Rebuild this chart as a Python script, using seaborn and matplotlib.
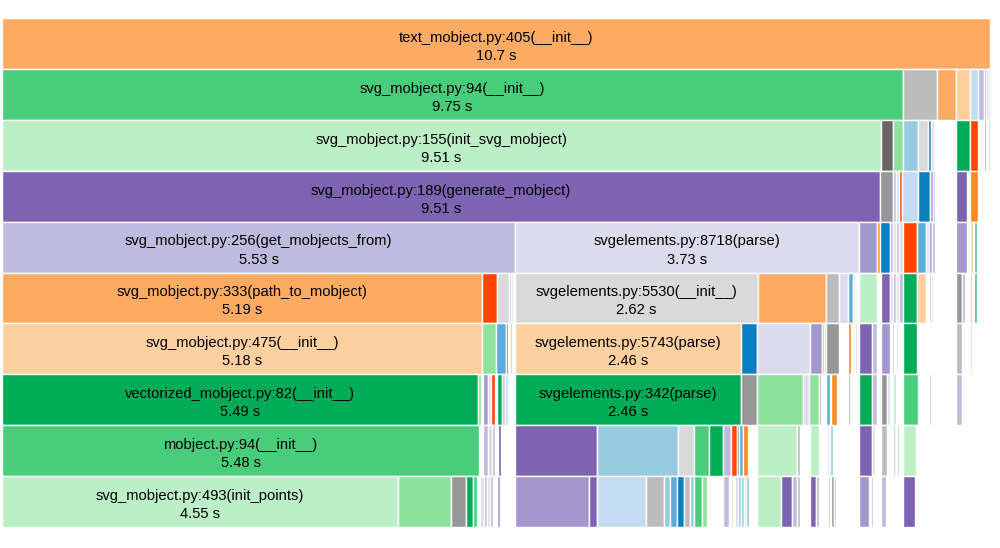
import pandas as pd
import matplotlib
matplotlib.use("Agg")
import matplotlib.pyplot as plt
import seaborn as sns

# colours used by the icicle cells
palette = {
    "or": "#fdab62", "lo": "#fed0a0", "dor": "#ff8a1f", "red": "#ff4500",
    "g": "#48ce7a", "dg": "#00ad56", "mg": "#8ee29c", "lg": "#bdefc6",
    "p": "#7e63b3", "mp": "#a397cb", "lp": "#bebbde", "pl": "#dcdbee",
    "b": "#0a7fc2", "mb": "#5aaedc", "lb": "#97cbe1", "pb": "#c4dcf1",
    "k1": "#666666", "k2": "#979797", "k3": "#bcbcbc", "k4": "#d9d9d9",
}

# each row of the call stack: (seconds, colour key); None = empty space
row0 = [(10.700, "or")]
row1 = [(9.758, "g"), (0.368, "k3"), (0.206, "or"), (0.152, "lo"), (0.087, "pb"),
        (0.065, "lp"), (0.022, "mb"), (0.022, "lb"), (0.022, "lo")]
row2 = [(9.520, "lg"), (0.130, "k1"), (0.108, "mg"), (0.162, "lb"), (0.108, "k4"),
        (0.032, "b"), (0.032, "pl"), (0.238, None), (0.152, "dg"), (0.087, "red"),
        (0.065, None), (0.022, "mb"), (0.022, None), (0.022, "lo")]
row3 = [(9.509, "p"), (0.141, "k2"), (0.032, "lp"), (0.032, "pl"), (0.032, "red"),
        (0.173, "pb"), (0.130, "b"), (0.032, "mp"), (0.022, "lp"), (0.227, None),
        (0.119, "p"), (0.032, None), (0.087, "dor")]
row4 = [(5.556, "lp"), (3.726, "pl"), (0.195, "mp"), (0.032, "dor"), (0.108, "b"),
        (0.032, "lp"), (0.032, "pl"), (0.032, "lp"), (0.043, "pl"), (0.152, "red"),
        (0.097, "mb"), (0.032, "pl"), (0.032, "mp"), (0.032, "lp"), (0.227, None),
        (0.119, "mp"), (0.032, None), (0.032, "lo"), (0.011, None), (0.032, "g")]
row5 = [(5.198, "or"), (0.162, "red"), (0.130, "k4"), (0.022, "lp"), (0.022, "pl"),
        (0.022, None), (2.632, "k4"), (0.736, "or"), (0.141, "k3"), (0.097, "pl"),
        (0.054, "mb"), (0.022, "pl"), (0.043, None), (0.195, "lg"), (0.043, None),
        (0.097, "p"), (0.032, "pl"), (0.032, "lp"), (0.032, "pl"), (0.043, "lp"),
        (0.152, "dg"), (0.097, "lo"), (0.032, None), (0.022, "k3"), (0.022, "pl"),
        (0.249, None), (0.065, "k2"), (0.032, "lp"), (0.054, None), (0.022, "mg"),
        (0.022, None), (0.032, "g")]
row6 = [(5.198, "lo"), (0.152, "mg"), (0.108, "mb"), (0.022, "b"), (0.022, None),
        (0.022, "lp"), (0.032, None), (2.448, "lo"), (0.173, "b"), (0.574, "pl"),
        (0.130, "mp"), (0.022, "dor"), (0.022, "mg"), (0.141, "k2"), (0.097, None),
        (0.032, "dor"), (0.043, None), (0.022, "k4"), (0.022, None), (0.141, "p"),
        (0.054, "lp"), (0.043, None), (0.097, "mp"), (0.022, None), (0.022, "k3"),
        (0.022, None), (0.022, "pl"), (0.054, None), (0.152, "dg"), (0.422, None),
        (0.065, "k3"), (0.087, None), (0.022, "lo")]
row7 = [(5.155, "dg"), (0.032, "mg"), (0.022, None), (0.054, "mp"), (0.032, "k4"),
        (0.043, "red"), (0.022, None), (0.054, "dg"), (0.032, "lp"), (0.032, "pb"),
        (0.076, None), (2.448, "dg"), (0.173, "k2"), (0.498, "mg"), (0.065, "pl"),
        (0.108, "mg"), (0.022, "mp"), (0.054, None), (0.043, "mb"), (0.011, None),
        (0.065, "dor"), (0.119, None), (0.022, "dor"), (0.097, None), (0.141, "dg"),
        (0.054, "lp"), (0.043, None), (0.065, "k2"), (0.032, "pl"), (0.032, None),
        (0.032, "lg"), (0.076, None), (0.162, "g"), (0.119, None), (0.022, "lp"),
        (0.271, None), (0.065, "lp")]
row8 = [(5.166, "g"), (0.043, None), (0.054, "lp"), (0.043, "k4"), (0.032, "lp"),
        (0.032, None), (0.032, "p"), (0.152, None), (0.888, "p"), (0.877, "lb"),
        (0.173, "k4"), (0.162, "g"), (0.152, "dg"), (0.087, "lp"), (0.065, "red"),
        (0.022, "k1"), (0.043, "mb"), (0.054, "dor"), (0.097, None), (0.433, "lg"),
        (0.032, "k3"), (0.108, None), (0.097, "lg"), (0.087, None), (0.022, "pb"),
        (0.011, None), (0.032, "lb"), (0.282, None), (0.141, "p"), (0.032, "pl"),
        (0.065, None), (0.065, "k3"), (0.065, None), (0.022, "mg"), (0.022, None),
        (0.022, "mg"), (0.043, None), (0.141, "lg")]
row9 = [(4.289, "lg"), (0.574, "mg"), (0.162, "k2"), (0.076, "dg"), (0.043, "g"),
        (0.032, None), (0.043, "pl"), (0.032, "lp"), (0.032, "pl"), (0.032, "lp"),
        (0.043, None), (0.032, "mp"), (0.065, None), (0.011, "k3"), (0.087, None),
        (0.801, "mp"), (0.087, "p"), (0.531, "pb"), (0.195, "k3"), (0.065, "lb"),
        (0.076, "mb"), (0.076, "b"), (0.065, "k3"), (0.043, "lb"), (0.087, "g"),
        (0.054, "mg"), (0.173, None), (0.065, "lp"), (0.022, None), (0.022, "lo"),
        (0.022, None), (0.032, "pb"), (0.032, "lb"), (0.032, "lb"), (0.022, "pb"),
        (0.032, "lb"), (0.087, None), (0.260, "lg"), (0.119, "p"), (0.054, "lp"),
        (0.032, "k3"), (0.108, None), (0.065, "p"), (0.032, "lp"), (0.097, None),
        (0.022, "k3"), (0.011, None), (0.032, "k2"), (0.022, "k3"), (0.249, None),
        (0.108, "mp"), (0.022, None), (0.022, "k3"), (0.087, None), (0.054, "lp"),
        (0.184, None), (0.130, "p")]
rows = [row0, row1, row2, row3, row4, row5, row6, row7, row8, row9]

# labelled cells: (row, cell index in row)
label_cells = [(0, 0), (1, 0), (2, 0), (3, 0), (4, 0), (4, 1), (5, 0), (5, 6),
               (6, 0), (6, 7), (7, 0), (7, 11), (8, 0), (9, 0)]
label_names = ["text_mobject.py:405(__init__)", "svg_mobject.py:94(__init__)",
               "svg_mobject.py:155(init_svg_mobject)", "svg_mobject.py:189(generate_mobject)",
               "svg_mobject.py:256(get_mobjects_from)", "svgelements.py:8718(parse)",
               "svg_mobject.py:333(path_to_mobject)", "svgelements.py:5530(__init__)",
               "svg_mobject.py:475(__init__)", "svgelements.py:5743(parse)",
               "vectorized_mobject.py:82(__init__)", "svgelements.py:342(parse)",
               "mobject.py:94(__init__)", "svg_mobject.py:493(init_points)"]
label_times = ["10.7 s", "9.75 s", "9.51 s", "9.51 s", "5.53 s", "3.73 s", "5.19 s",
               "2.62 s", "5.18 s", "2.46 s", "5.49 s", "2.46 s", "5.48 s", "4.55 s"]

# build a table of cells with their left edge from the running sum
recs = []
for r, row in enumerate(rows):
    left = 0.0
    for i, (w, c) in enumerate(row):
        recs.append({"row": r, "idx": i, "left": left, "width": w, "color": c})
        left += w
cells = pd.DataFrame(recs)

sns.set_theme(style="white")
plt.rcParams["font.family"] = ["Liberation Sans", "DejaVu Sans"]

fig = plt.figure(figsize=(10, 5.48), dpi=100)
ax = fig.add_axes([0.002, 1 - 527 / 548, 0.988, 509 / 548])

drawn = cells[cells["color"].notna()]
ax.barh(drawn["row"], drawn["width"], left=drawn["left"], height=1, align="edge",
        color=[palette[c] for c in drawn["color"]], edgecolor="white", linewidth=1.0)

for (r, i), name, t in zip(label_cells, label_names, label_times):
    cell = cells[(cells["row"] == r) & (cells["idx"] == i)].iloc[0]
    xc = cell["left"] + cell["width"] / 2
    ax.text(xc, r + 0.39, name, ha="center", va="center", fontsize=10.6, color="black")
    ax.text(xc, r + 0.745, t, ha="center", va="center", fontsize=10.6, color="black")

ax.set_xlim(0, 10.7)
ax.set_ylim(10, 0)
ax.axis("off")
sns.despine(left=True, bottom=True)

fig.savefig("out.png", dpi=100)
